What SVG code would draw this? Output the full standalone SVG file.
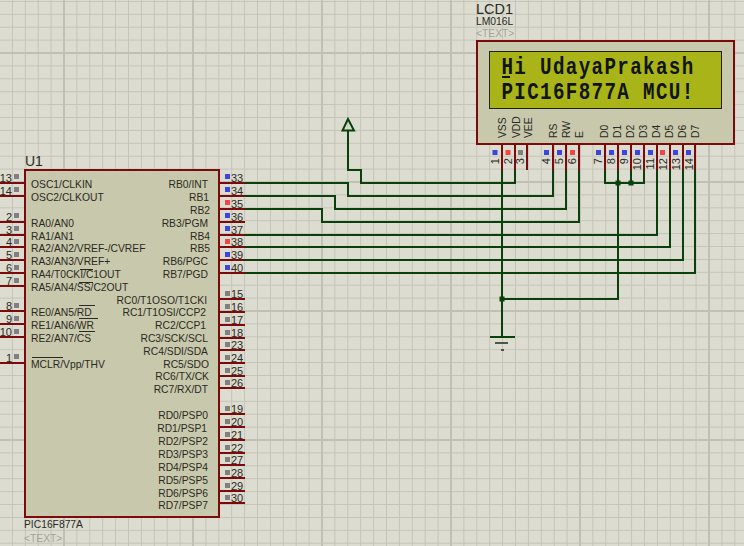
<svg xmlns="http://www.w3.org/2000/svg" width="744" height="546" viewBox="0 0 744 546">
<style>
text{font-family:"Liberation Sans",Arial,sans-serif;fill:#2a2a22}
.l{font-size:10.3px}
.r{font-size:10.3px;text-anchor:end}
.n{font-size:11px}
.nr{font-size:11px;text-anchor:end}
.v{font-size:10.3px}
.g{font-size:10.3px;fill:#a4a498}
.pin{stroke:#7c0a0a;stroke-width:2;fill:none}
.body{stroke:#7c0a0a;stroke-width:2;fill:#c8c8ac}
.w{stroke:#0a400c;stroke-width:2;fill:none}
.o{stroke:#2a2a22;stroke-width:1}
.b{fill:#3c46dc}.e{fill:#f04646}.y{fill:#808080}
.c{font-family:"Liberation Mono","DejaVu Sans Mono",monospace;font-size:24px;font-weight:bold;letter-spacing:1.7px;fill:#101400}
</style>
<defs>
<pattern id="grid" x="63" y="52" width="129" height="129" patternUnits="userSpaceOnUse">
<path d="M13.9 0V129M26.8 0V129M39.7 0V129M52.6 0V129M65.5 0V129M78.4 0V129M91.3 0V129M104.2 0V129M117.1 0V129M0 13.9H129M0 26.8H129M0 39.7H129M0 52.6H129M0 65.5H129M0 78.4H129M0 91.3H129M0 104.2H129M0 117.1H129" stroke="#c4c4b8" stroke-width="1" fill="none"/>
<path d="M1 0V129M0 1H129" stroke="#c0c0b4" stroke-width="2" fill="none"/>
</pattern>
</defs>
<rect width="744" height="546" fill="#dcdcd0"/>
<rect width="744" height="546" fill="url(#grid)"/>

<g id="U1">
<rect class="body" x="25" y="170" width="194" height="347"/>
<path class="pin" d="M0 183H25M0 196H25M0 222H25M0 235H25M0 247H25M0 260H25M0 273H25M0 286H25M0 311H25M0 324H25M0 337H25M0 363H25M219 183H245M219 196H245M219 209H245M219 222H245M219 235H245M219 247H245M219 260H245M219 273H245M219 299H245M219 312H245M219 325H245M219 338H245M219 350H245M219 363H245M219 376H245M219 388H245M219 414H245M219 427H245M219 440H245M219 453H245M219 465H245M219 478H245M219 491H245M219 503H245"/>
<g class="y">
<rect x="14" y="174" width="5" height="5"/><rect x="14" y="187" width="5" height="5"/><rect x="14" y="213" width="5" height="5"/><rect x="14" y="226" width="5" height="5"/><rect x="14" y="239" width="5" height="5"/><rect x="14" y="252" width="5" height="5"/><rect x="14" y="265" width="5" height="5"/><rect x="14" y="278" width="5" height="5"/><rect x="14" y="303" width="5" height="5"/><rect x="14" y="316" width="5" height="5"/><rect x="14" y="329" width="5" height="5"/><rect x="14" y="354" width="5" height="5"/>
<rect x="225" y="291" width="5" height="5"/><rect x="225" y="304" width="5" height="5"/><rect x="225" y="317" width="5" height="5"/><rect x="225" y="330" width="5" height="5"/><rect x="225" y="342" width="5" height="5"/><rect x="225" y="355" width="5" height="5"/><rect x="225" y="368" width="5" height="5"/><rect x="225" y="380" width="5" height="5"/><rect x="225" y="406" width="5" height="5"/><rect x="225" y="419" width="5" height="5"/><rect x="225" y="432" width="5" height="5"/><rect x="225" y="445" width="5" height="5"/><rect x="225" y="457" width="5" height="5"/><rect x="225" y="470" width="5" height="5"/><rect x="225" y="483" width="5" height="5"/><rect x="225" y="495" width="5" height="5"/>
</g>
<rect class="b" x="225" y="174" width="5" height="5"/><rect class="b" x="225" y="187" width="5" height="5"/><rect class="e" x="225" y="200" width="5" height="5"/><rect class="b" x="225" y="213" width="5" height="5"/><rect class="b" x="225" y="226" width="5" height="5"/><rect class="e" x="225" y="239" width="5" height="5"/><rect class="b" x="225" y="252" width="5" height="5"/><rect class="b" x="225" y="265" width="5" height="5"/>
<text class="nr" x="12" y="182">13</text><text class="nr" x="12" y="195">14</text><text class="nr" x="12" y="221">2</text><text class="nr" x="12" y="234">3</text><text class="nr" x="12" y="246">4</text><text class="nr" x="12" y="259">5</text><text class="nr" x="12" y="272">6</text><text class="nr" x="12" y="285">7</text><text class="nr" x="12" y="310">8</text><text class="nr" x="12" y="323">9</text><text class="nr" x="12" y="336">10</text><text class="nr" x="12" y="362">1</text>
<text class="n" x="231" y="182">33</text><text class="n" x="231" y="195">34</text><text class="n" x="231" y="208">35</text><text class="n" x="231" y="221">36</text><text class="n" x="231" y="234">37</text><text class="n" x="231" y="246">38</text><text class="n" x="231" y="259">39</text><text class="n" x="231" y="272">40</text><text class="n" x="231" y="298">15</text><text class="n" x="231" y="311">16</text><text class="n" x="231" y="324">17</text><text class="n" x="231" y="337">18</text><text class="n" x="231" y="349">23</text><text class="n" x="231" y="362">24</text><text class="n" x="231" y="375">25</text><text class="n" x="231" y="387">26</text><text class="n" x="231" y="413">19</text><text class="n" x="231" y="426">20</text><text class="n" x="231" y="439">21</text><text class="n" x="231" y="452">22</text><text class="n" x="231" y="464">27</text><text class="n" x="231" y="477">28</text><text class="n" x="231" y="490">29</text><text class="n" x="231" y="502">30</text>
<text class="l" x="31" y="188">OSC1/CLKIN</text><text class="l" x="31" y="201">OSC2/CLKOUT</text><text class="l" x="31" y="227">RA0/AN0</text><text class="l" x="31" y="240">RA1/AN1</text><text class="l" x="31" y="252">RA2/AN2/VREF-/CVREF</text><text class="l" x="31" y="265">RA3/AN3/VREF+</text><text class="l" x="31" y="278">RA4/T0CKI/C1OUT</text><text class="l" x="31" y="291">RA5/AN4/SS/C2OUT</text><text class="l" x="31" y="316">RE0/AN5/RD</text><text class="l" x="31" y="329">RE1/AN6/WR</text><text class="l" x="31" y="342">RE2/AN7/CS</text><text class="l" x="31" y="368">MCLR/Vpp/THV</text>
<path class="o" d="M79 305.500H95M79 318.500H98M79 331.500H95M32 357.500H63M80 269.500H93M79 282.500H93"/>
<text class="r" x="208" y="188">RB0/INT</text><text class="r" x="209" y="201">RB1</text><text class="r" x="210" y="214">RB2</text><text class="r" x="208" y="227">RB3/PGM</text><text class="r" x="210" y="240">RB4</text><text class="r" x="210" y="252">RB5</text><text class="r" x="208" y="265">RB6/PGC</text><text class="r" x="208" y="278">RB7/PGD</text>
<text class="r" x="207" y="304">RC0/T1OSO/T1CKI</text><text class="r" x="206" y="316">RC1/T1OSI/CCP2</text><text class="r" x="206" y="329">RC2/CCP1</text><text class="r" x="208" y="342">RC3/SCK/SCL</text><text class="r" x="208" y="355">RC4/SDI/SDA</text><text class="r" x="209" y="368">RC5/SDO</text><text class="r" x="209" y="380">RC6/TX/CK</text><text class="r" x="208" y="393">RC7/RX/DT</text>
<text class="r" x="208" y="419">RD0/PSP0</text><text class="r" x="207" y="432">RD1/PSP1</text><text class="r" x="208" y="445">RD2/PSP2</text><text class="r" x="208" y="458">RD3/PSP3</text><text class="r" x="208" y="471">RD4/PSP4</text><text class="r" x="208" y="484">RD5/PSP5</text><text class="r" x="208" y="497">RD6/PSP6</text><text class="r" x="208" y="509">RD7/PSP7</text>
<text x="25" y="166" font-size="14">U1</text>
<text class="l" x="24" y="528">PIC16F877A</text>
<text class="g" x="24" y="542">&lt;TEXT&gt;</text>
</g>

<g id="LCD1">
<rect class="body" x="477" y="41" width="257" height="103"/>
<rect x="489.500" y="51.500" width="232" height="57" fill="#a8b418" stroke="#1e2200" stroke-width="1"/>
<text class="c" transform="translate(501.500 74) scale(.8 1)">Hi UdayaPrakash</text>
<text class="c" transform="translate(501.500 99) scale(.8 1)">PIC16F877A MCU!</text>
<rect x="502" y="76" width="8" height="2" fill="#101400"/>
<path class="pin" d="M502 144V170M515 144V170M527 144V170M553 144V170M566 144V170M579 144V170M605 144V170M618 144V170M631 144V170M644 144V170M657 144V170M670 144V170M683 144V170M695 144V170"/>
<rect class="b" x="492.500" y="150" width="5" height="5"/><rect class="e" x="505.500" y="150" width="5" height="5"/><rect class="y" x="518" y="150" width="5" height="5"/><rect class="b" x="544" y="150" width="5" height="5"/><rect class="b" x="557" y="150" width="5" height="5"/><rect class="e" x="570" y="150" width="5" height="5"/><rect class="b" x="596" y="150" width="5" height="5"/><rect class="b" x="609" y="150" width="5" height="5"/><rect class="b" x="622" y="150" width="5" height="5"/><rect class="b" x="635" y="150" width="5" height="5"/><rect class="b" x="648" y="150" width="5" height="5"/><rect class="e" x="660" y="150" width="5" height="5"/><rect class="b" x="673" y="150" width="5" height="5"/><rect class="b" x="686" y="150" width="5" height="5"/>
<text class="nr" transform="translate(499 158) rotate(-90)">1</text><text class="nr" transform="translate(512 158) rotate(-90)">2</text><text class="nr" transform="translate(524 158) rotate(-90)">3</text><text class="nr" transform="translate(550 158) rotate(-90)">4</text><text class="nr" transform="translate(563 158) rotate(-90)">5</text><text class="nr" transform="translate(576 158) rotate(-90)">6</text><text class="nr" transform="translate(602 158) rotate(-90)">7</text><text class="nr" transform="translate(615 158) rotate(-90)">8</text><text class="nr" transform="translate(628 158) rotate(-90)">9</text><text class="nr" transform="translate(641 158) rotate(-90)">10</text><text class="nr" transform="translate(654 158) rotate(-90)">11</text><text class="nr" transform="translate(667 158) rotate(-90)">12</text><text class="nr" transform="translate(680 158) rotate(-90)">13</text><text class="nr" transform="translate(693 158) rotate(-90)">14</text>
<text class="v" transform="translate(506 138) rotate(-90)">VSS</text><text class="v" transform="translate(519.500 138) rotate(-90)">VDD</text><text class="v" transform="translate(532 138) rotate(-90)">VEE</text><text class="v" transform="translate(556.500 138) rotate(-90)">RS</text><text class="v" transform="translate(569.500 138) rotate(-90)">RW</text><text class="v" transform="translate(582.500 138) rotate(-90)">E</text><text class="v" transform="translate(608 138) rotate(-90)">D0</text><text class="v" transform="translate(621 138) rotate(-90)">D1</text><text class="v" transform="translate(634 138) rotate(-90)">D2</text><text class="v" transform="translate(647 138) rotate(-90)">D3</text><text class="v" transform="translate(660 138) rotate(-90)">D4</text><text class="v" transform="translate(673 138) rotate(-90)">D5</text><text class="v" transform="translate(686 138) rotate(-90)">D6</text><text class="v" transform="translate(699 138) rotate(-90)">D7</text>
<text x="476" y="13.500" font-size="14.500">LCD1</text>
<text class="l" x="476" y="25">LM016L</text>
<text class="g" x="476" y="37">&lt;TEXT&gt;</text>
</g>

<g id="power-terminal">
<path class="w" d="M348 119L342.500 130.500H354L348 119Z"/>
</g>

<g id="ground">
<path class="w" d="M490 337H515"/>
<path d="M495 343H508" stroke="#1c2a1c" stroke-width="1.500"/>
<path d="M501 350H504" stroke="#1c2a1c" stroke-width="1.500"/>
</g>

<g id="connectors">
<path class="w" d="M348 130V170H361V183H515V170"/>
<path class="w" d="M245 183H348V196H553V170"/>
<path class="w" d="M245 196H335V209H566V170"/>
<path class="w" d="M245 209H322V222H579V170"/>
<path class="w" d="M245 235H657V170"/>
<path class="w" d="M245 247H670V170"/>
<path class="w" d="M245 260H683V170"/>
<path class="w" d="M245 273H695V170"/>
<path class="w" d="M502 170V337"/>
<path class="w" d="M502 299H618V170"/>
<path class="w" d="M605 170V183H644V170"/>
<path class="w" d="M631 170V183"/>
<rect x="499.500" y="296.500" width="5" height="5" fill="#0a400c"/>
<rect x="615.500" y="180.500" width="5" height="5" fill="#0a400c"/>
<rect x="628.500" y="180.500" width="5" height="5" fill="#0a400c"/>
</g>
</svg>
